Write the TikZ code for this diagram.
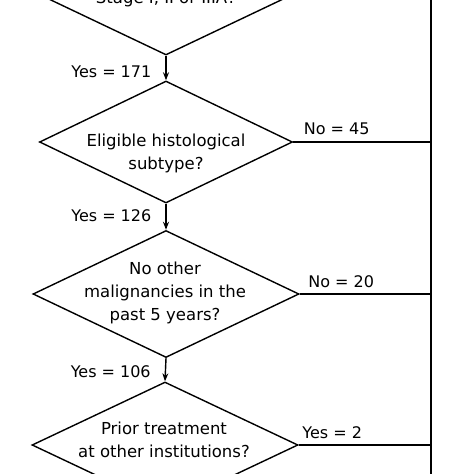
\documentclass[tikz,border=0pt]{standalone}
\usepackage{fontspec}
\setmainfont{DejaVu Sans}
\usetikzlibrary{shapes.geometric,arrows.meta}

\begin{document}
\begin{tikzpicture}[
  x=1pt, y=-1pt,
  decision/.style={draw, diamond, line width=1.4pt, inner sep=0pt},
  question/.style={align=center, inner sep=0pt, font=\fontsize{16.5}{23}\selectfont},
  count/.style={font=\fontsize{16}{18}\selectfont, inner sep=2pt},
  flow/.style={->, line width=1.4pt},
  >={Stealth[length=8pt, width=6pt]}
]
\useasboundingbox (0,0) rectangle (474,474);
\clip (0,0) rectangle (474,474);

% Decision diamonds (the first and last run off the page)
\node[decision, minimum width=256pt, minimum height=122pt] (stage) at (166,-6) {};
\node[question, anchor=base] (stagetxt) at (166,3) {Stage I, II or IIIA?};
\node[decision, minimum width=253pt, minimum height=122pt] (histo) at (166,142) {};
\node[question] (histotxt) at (166,153) {Eligible histological\\subtype?};
\node[decision, minimum width=266pt, minimum height=127pt] (malig) at (166,294) {};
\node[question] (maligtxt) at (165,293) {No other\\malignancies in the\\past 5 years?};
\node[decision, minimum width=266pt, minimum height=126pt] (prior) at (165,445) {};
\node[question] (priortxt) at (164,440) {Prior treatment\\at other institutions?};

% Exclusion rail on the right
\coordinate (railtop) at (431,0);
\coordinate (railbot) at (431,474);
\draw[line width=1.4pt] (railtop) -- (railbot);

% Yes branches
\draw[flow] (stage.south) -- node[count, pos=0.65, left=12pt] {Yes = 171} (histo.north);
\draw[flow] (histo.south) -- node[count, pos=0.45, left=12pt] {Yes = 126} (malig.north);
\draw[flow] (malig.south) -- node[count, pos=0.6, left=12pt] {Yes = 106} (prior.north);

% Exclusions
\draw[line width=1.4pt] (histo.east) -- node[count, pos=0, anchor=south west, xshift=8pt, yshift=5pt] {No = 45} (histo.east -| railtop);
\draw[line width=1.4pt] (malig.east) -- node[count, pos=0, anchor=south west, xshift=6pt, yshift=4pt] {No = 20} (malig.east -| railtop);
\draw[line width=1.4pt] (prior.east) -- node[count, pos=0, anchor=south west, xshift=1pt, yshift=4pt] {Yes = 2} (prior.east -| railtop);

\end{tikzpicture}
\end{document}
